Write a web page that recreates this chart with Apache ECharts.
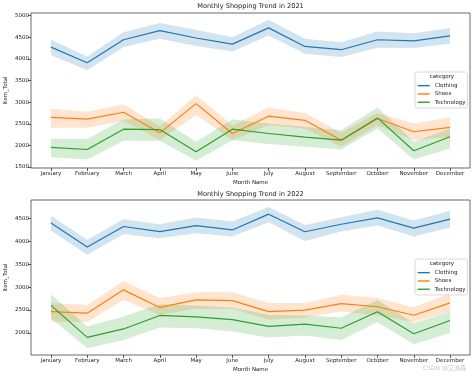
<!DOCTYPE html>
<html>
<head>
<meta charset="utf-8">
<script src="https://cdn.jsdelivr.net/npm/echarts@6/dist/echarts.min.js"></script>
<style>
  html, body { margin: 0; padding: 0; background: #fff; }
  #chart { width: 474px; height: 377px; }
</style>
</head>
<body>
<div id="chart"></div>
<script>
// month names on the x axis
var months = ['January', 'February', 'March', 'April', 'May', 'June', 'July',
    'August', 'September', 'October', 'November', 'December'];
var categories = ['Clothing', 'Shoes', 'Technology'];
var ticks2021 = [1500, 2000, 2500, 3000, 3500, 4000, 4500, 5000];
var ticks2022 = [2000, 2500, 3000, 3500, 4000, 4500];

// 2021 means and confidence band (lo / hi)
var clothing2021 = [4270, 3910, 4440, 4650, 4480, 4340, 4715, 4285, 4210, 4440, 4415, 4530];
var clothing2021Lo = [4080, 3735, 4270, 4465, 4295, 4170, 4540, 4115, 4040, 4255, 4250, 4350];
var clothing2021Hi = [4440, 4055, 4615, 4825, 4670, 4500, 4900, 4465, 4385, 4630, 4590, 4710];
var shoes2021 = [2645, 2605, 2765, 2290, 2965, 2275, 2675, 2580, 2120, 2620, 2315, 2415];
var shoes2021Lo = [2405, 2405, 2565, 2120, 2700, 2120, 2465, 2390, 1970, 2465, 2120, 2200];
var shoes2021Hi = [2845, 2780, 2950, 2445, 3160, 2465, 2875, 2750, 2290, 2750, 2505, 2645];
var tech2021 = [1955, 1905, 2375, 2365, 1855, 2375, 2275, 2190, 2120, 2635, 1875, 2200];
var tech2021Lo = [1725, 1675, 2105, 2105, 1645, 2120, 2030, 1970, 1905, 2390, 1675, 1930];
var tech2021Hi = [2150, 2150, 2605, 2620, 2085, 2605, 2505, 2430, 2350, 2875, 2085, 2390];

// 2022
var clothing2022 = [4400, 3875, 4325, 4215, 4345, 4250, 4595, 4210, 4375, 4515, 4290, 4485];
var clothing2022Lo = [4230, 3705, 4155, 4070, 4180, 4105, 4420, 4010, 4215, 4345, 4105, 4305];
var clothing2022Hi = [4560, 4035, 4485, 4375, 4520, 4435, 4750, 4360, 4530, 4690, 4455, 4670];
var shoes2022 = [2465, 2430, 2940, 2555, 2720, 2705, 2465, 2495, 2640, 2570, 2385, 2655];
var shoes2022Lo = [2250, 2235, 2720, 2395, 2525, 2525, 2285, 2335, 2465, 2380, 2235, 2465];
var shoes2022Hi = [2650, 2610, 3135, 2760, 2890, 2890, 2650, 2650, 2830, 2760, 2560, 2865];
var tech2022 = [2600, 1900, 2085, 2380, 2350, 2290, 2140, 2190, 2100, 2460, 1980, 2270];
var tech2022Lo = [2320, 1665, 1845, 2115, 2100, 2030, 1900, 1940, 1845, 2235, 1750, 1995];
var tech2022Hi = [2845, 2140, 2355, 2625, 2600, 2555, 2395, 2380, 2335, 2720, 2210, 2465];

var colors = ['#1f77b4', '#ff7f0e', '#2ca02c'];
var textColor = '#222';
var font = 'DejaVu Sans';

var chart = echarts.init(document.getElementById('chart'), null, {renderer: 'canvas'});

function pairs(vals) {
    return vals.map(function (v, i) { return [i, v]; });
}

// confidence band drawn as one polygon through the axis scales
function bandSeries(name, lo, hi, color, gi) {
    return {
        type: 'custom',
        name: name,
        xAxisIndex: gi,
        yAxisIndex: gi,
        silent: true,
        z: 1,
        data: lo.map(function (v, i) { return [i, v, hi[i]]; }),
        encode: {x: 0, y: [1, 2]},
        renderItem: function (params, api) {
            if (params.dataIndex !== 0) return;
            var pts = [];
            for (var i = 0; i < lo.length; i++) pts.push(api.coord([i, lo[i]]));
            for (var j = hi.length - 1; j >= 0; j--) pts.push(api.coord([j, hi[j]]));
            return {
                type: 'polygon',
                shape: {points: pts},
                style: {fill: color, opacity: 0.2}
            };
        }
    };
}

function lineSeries(name, vals, color, gi) {
    return {
        type: 'line',
        name: name,
        xAxisIndex: gi,
        yAxisIndex: gi,
        data: pairs(vals),
        showSymbol: false,
        z: 3,
        itemStyle: {color: color},
        lineStyle: {color: color, width: 1.2}
    };
}

function xAxisFor(gi) {
    var idx = months.map(function (m, i) { return i; });
    return {
        type: 'value',
        gridIndex: gi,
        position: 'bottom',
        min: -0.55,
        max: 11.55,
        name: 'Month Name',
        nameLocation: 'middle',
        nameGap: 12,
        nameMoveOverlap: false,
        nameTextStyle: {fontSize: 5.5, color: textColor, fontFamily: font},
        axisLine: {show: false, onZero: false},
        splitLine: {show: false},
        axisTick: {show: true, length: 3, customValues: idx, lineStyle: {color: '#333', width: 0.8}},
        axisLabel: {
            customValues: idx,
            formatter: function (v) { return months[Math.round(v)]; },
            fontSize: 5.5, color: textColor, fontFamily: font, margin: 2.5
        }
    };
}

function yAxisFor(gi, min, max, ticks) {
    return {
        type: 'value',
        gridIndex: gi,
        position: 'left',
        min: min,
        max: max,
        name: 'Item_Total',
        nameLocation: 'middle',
        nameRotate: 90,
        nameGap: 22,
        nameMoveOverlap: false,
        nameTextStyle: {fontSize: 5.5, color: textColor, fontFamily: font},
        axisLine: {show: false, onZero: false},
        splitLine: {show: false},
        axisTick: {show: true, length: 3, customValues: ticks, lineStyle: {color: '#333', width: 0.8}},
        axisLabel: {
            customValues: ticks,
            formatter: function (v) { return String(v); },
            fontSize: 5.5, color: textColor, fontFamily: font, margin: 2
        }
    };
}

function legendFor(top) {
    return {
        orient: 'vertical',
        left: 415,
        top: top,
        data: categories,
        icon: 'rect',
        itemWidth: 12,
        itemHeight: 1.4,
        itemGap: 0,
        backgroundColor: 'rgba(255,255,255,0.8)',
        borderColor: '#d0d0d0',
        borderWidth: 0.8,
        borderRadius: 2,
        padding: [9.5, 2, 1.5, 2.7],
        selectedMode: false,
        textStyle: {fontSize: 5.5, color: textColor, fontFamily: font, lineHeight: 8.3}
    };
}

var series = [
    bandSeries('Clothing', clothing2021Lo, clothing2021Hi, colors[0], 0),
    bandSeries('Shoes', shoes2021Lo, shoes2021Hi, colors[1], 0),
    bandSeries('Technology', tech2021Lo, tech2021Hi, colors[2], 0),
    lineSeries('Clothing', clothing2021, colors[0], 0),
    lineSeries('Shoes', shoes2021, colors[1], 0),
    lineSeries('Technology', tech2021, colors[2], 0),
    bandSeries('Clothing', clothing2022Lo, clothing2022Hi, colors[0], 1),
    bandSeries('Shoes', shoes2022Lo, shoes2022Hi, colors[1], 1),
    bandSeries('Technology', tech2022Lo, tech2022Hi, colors[2], 1),
    lineSeries('Clothing', clothing2022, colors[0], 1),
    lineSeries('Shoes', shoes2022, colors[1], 1),
    lineSeries('Technology', tech2022, colors[2], 1)
];

chart.setOption({
    animation: false,
    color: colors,
    title: [
        {text: 'Monthly Shopping Trend in 2021', left: 250.5, top: 2.5, textAlign: 'center', padding: 0,
            textStyle: {fontSize: 6.6, fontWeight: 'normal', color: textColor, fontFamily: font}},
        {text: 'Monthly Shopping Trend in 2022', left: 250.5, top: 190.5, textAlign: 'center', padding: 0,
            textStyle: {fontSize: 6.6, fontWeight: 'normal', color: textColor, fontFamily: font}}
    ],
    grid: [
        {left: 31, top: 13, width: 439, height: 155, show: true, borderColor: '#444', borderWidth: 0.8,
            backgroundColor: 'transparent', containLabel: false, outerBoundsMode: 'none'},
        {left: 31, top: 200, width: 439, height: 155, show: true, borderColor: '#444', borderWidth: 0.8,
            backgroundColor: 'transparent', containLabel: false, outerBoundsMode: 'none'}
    ],
    xAxis: [xAxisFor(0), xAxisFor(1)],
    yAxis: [yAxisFor(0, 1478, 5058, ticks2021), yAxisFor(1, 1515, 4905, ticks2022)],
    legend: [legendFor(72), legendFor(259)],
    graphic: [
        {type: 'text', left: 441.7 - 12, top: 74, z: 100,
            style: {text: 'category', fontSize: 5.5, fill: textColor, fontFamily: font}},
        {type: 'text', left: 441.7 - 12, top: 261, z: 100,
            style: {text: 'category', fontSize: 5.5, fill: textColor, fontFamily: font}},
        {type: 'text', right: 8, top: 365, z: 100,
            style: {text: 'CSDN @艾派森', fontSize: 6, fill: '#c8c8c8',
                fontFamily: '"DejaVu Sans", "Noto Sans CJK SC"'}}
    ],
    series: series
});
</script>
</body>
</html>
